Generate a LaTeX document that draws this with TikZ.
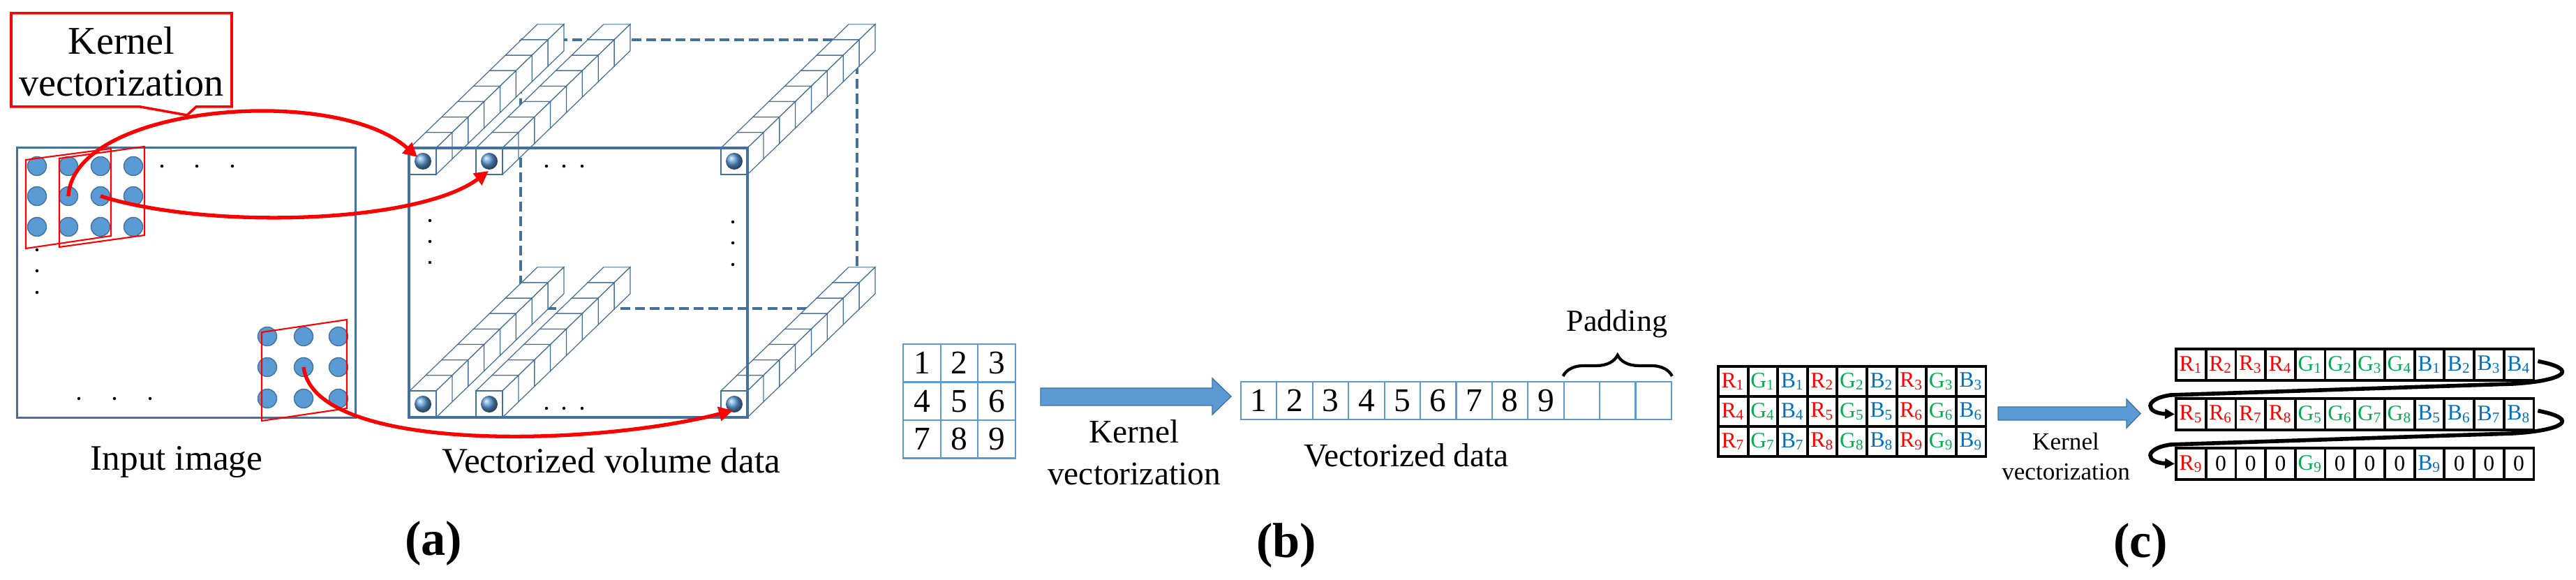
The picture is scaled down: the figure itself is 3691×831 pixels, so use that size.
\documentclass[tikz,border=0pt]{standalone}
\usepackage{fontspec}
\setmainfont{Liberation Serif}
\usetikzlibrary{arrows.meta,decorations.pathreplacing,calc}
\definecolor{cubeblue}{HTML}{41719C}
\definecolor{dotblue}{HTML}{5B9BD5}
\definecolor{cr}{HTML}{FF0000}
\definecolor{cg}{HTML}{00B050}
\definecolor{cb}{HTML}{0070C0}
\newcommand{\mycuberow}[2]{%
  \foreach \k in {7,6,...,0}{%
    \pgfmathsetmacro{\cx}{#1+\k*22.86}
    \pgfmathsetmacro{\cy}{#2-\k*22.14}
    \draw[cubeline,fill=white] (\cx,\cy) -- ++(22.86,-22.14) -- ++(38,0) -- ++(-22.86,22.14) -- cycle;
    \draw[cubeline,fill=white] (\cx+38,\cy) -- ++(22.86,-22.14) -- ++(0,38) -- ++(-22.86,22.14) -- cycle;
    \draw[cubeline,fill=white] (\cx,\cy) rectangle ++(38,38);
    \shade[ball color=dotblue] (\cx+19,\cy+19) circle (0.12cm);
  }}
\begin{document}
\begin{tikzpicture}[x=0.01cm,y=-0.01cm,
  cubeline/.style={draw=cubeblue,line width=0.35pt},
  pix/.style={circle,fill=dotblue,draw=cubeblue,line width=0.4pt,minimum width=0.25cm,minimum height=0.27cm,inner sep=0pt},
  redarrow/.style={draw=cr,line width=1.5pt,-{Triangle[length=0.2cm,width=0.2cm]}},
  frame/.style={draw=cr,line width=0.6pt},
  lbl/.style={font=\fontsize{14.6}{16}\selectfont,inner sep=0pt},
  lblb/.style={font=\fontsize{13.5}{15}\selectfont,inner sep=0pt,align=center},
  panel/.style={font=\fontsize{20}{22}\selectfont\bfseries,inner sep=0pt},
  bcell/.style={draw=dotblue,line width=0.6pt,minimum width=0.537cm,minimum height=0.545cm,inner sep=0pt,font=\fontsize{13.5}{15}\selectfont},
  vcell/.style={draw=dotblue,line width=0.6pt,minimum width=0.514cm,minimum height=0.54cm,inner sep=0pt,font=\fontsize{13.5}{15}\selectfont},
  ccell/.style={draw=black,line width=1.1pt,minimum width=0.426cm,minimum height=0.43cm,inner sep=0pt,font=\fontsize{9}{10}\selectfont},
  rcell/.style={draw=black,line width=1.1pt,minimum width=0.427cm,minimum height=0.45cm,inner sep=0pt,font=\fontsize{9}{10}\selectfont},
  blockarrow/.style={fill=dotblue,draw=cubeblue,line width=0.4pt},
  dot/.style={circle,fill=black,inner sep=0pt,minimum size=0.045cm},
  blackarrow/.style={draw=black,line width=1.6pt,-{Triangle[length=0.14cm,width=0.14cm]}}]
\useasboundingbox (0,0) rectangle (3691,831);

% ================= (a) =================
\node[draw=cubeblue,line width=0.9pt,minimum width=4.84cm,minimum height=3.86cm,inner sep=0pt] (img) at (267,405) {};
% pixel dots
\foreach \i/\x in {1/53,2/98,3/144,4/191}{
  \foreach \j/\y in {1/238,2/281,3/325}{
    \node[pix] (p\i\j) at (\x,\y) {};
  }}
\foreach \i/\x in {1/383,2/435,3/485}{
  \foreach \j/\y in {1/482,2/526,3/571}{
    \node[pix] (q\i\j) at (\x,\y) {};
  }}
\draw[frame] (37,229) -- (159,213) -- (159,338) -- (37,356) -- cycle;
\draw[frame] (85,227) -- (207,210) -- (207,337) -- (85,354) -- cycle;
\draw[frame] (375,476) -- (497,458) -- (497,585) -- (375,603) -- cycle;
\foreach \n/\x/\y in {d1/232/238,d2/282/238,d3/333/238,d4/53/358,d5/53/388,d6/53/419,d7/113/571,d8/164/571,d9/215/571}
  \node[dot] (\n) at (\x,\y) {};
% callout
\draw[draw=cr,line width=1pt,fill=white] (16,19) -- (332,19) -- (332,153) -- (281,153) -- (268,165) -- (201,153) -- (16,153) -- cycle;
\node[font=\fontsize{16}{18}\selectfont,align=center,inner sep=0pt] (callout) at (174,88) {Kernel\\[-1pt]vectorization};
\node[lbl] (inlbl) at (253,662) {Input image};

% volume cube
\draw[draw=cubeblue,line width=0.9pt,dash pattern=on 4pt off 2pt] (746,57) rectangle (1228,442);
\mycuberow{587}{212}
\mycuberow{682}{212}
\mycuberow{1033}{212}
\mycuberow{587}{560}
\mycuberow{682}{560}
\mycuberow{1033}{560}
\node[draw=cubeblue,line width=1.1pt,minimum width=4.85cm,minimum height=3.86cm,inner sep=0pt] (front) at (828.5,405) {};
\coordinate (s1) at (598,225);
\coordinate (s2) at (700,245);
\coordinate (s3) at (1050,588);
\foreach \n/\x/\y in {e1/783/238,e2/808/238,e3/834/238,e4/783/585,e5/808/585,e6/834/585,e7/616/316,e8/616/346,e9/616/376,e10/1050/318,e11/1050/348,e12/1050/379}
  \node[dot] (\n) at (\x,\y) {};
\node[lbl] (vollbl) at (876,660) {Vectorized volume data};
\node[panel] (pa) at (621,779) {(a)};
% red arrows
\draw[redarrow] (p22.center) .. controls (105,150) and (480,120) .. (s1);
\draw[redarrow] (p32.center) .. controls (300,330) and (600,320) .. (s2);
\draw[redarrow] (q22.center) .. controls (450,650) and (850,640) .. (s3);

% ================= (b) =================
\foreach \c in {0,1,2}{
  \foreach \r in {0,1,2}{
    \pgfmathtruncatemacro{\v}{\r*3+\c+1}
    \node[bcell] (g\v) at ({1294+26.85+\c*53.7},{493+27.25+\r*54.5}) {\v};
  }}
\draw[blockarrow] (1491,556) -- (1737,556) -- (1737,542) -- (1764,568) -- (1737,594) -- (1737,581) -- (1491,581) -- cycle;
\node[lblb] (kvb) at (1625,648) {Kernel\\[2pt]vectorization};
\foreach \i in {1,...,12}{
  \pgfmathtruncatemacro{\lab}{\i}
  \node[vcell] (v\i) at ({1778+25.7+(\i-1)*51.4},574) {\ifnum\i<10 \lab\fi};
}
\node[lblb] (vdl) at (2015,652) {Vectorized data};
\draw[line width=1.2pt,decorate,decoration={brace,amplitude=0.3cm}] (v10.north west) ++(0,-7) coordinate (bl) (v12.north east) ++(0,-7) coordinate (br) (bl) -- (br);
\node[font=\fontsize{12.5}{14}\selectfont,inner sep=0pt] (pad) at (2317,464) {Padding};
\node[panel] (pb) at (1843,782) {(b)};

% ================= (c) =================
\foreach \r in {0,1,2}{
  \foreach \c in {0,...,8}{
    \pgfmathtruncatemacro{\idx}{\r*3+floor(\c/3)+1}
    \pgfmathtruncatemacro{\ch}{mod(\c,3)}
    \node[ccell] (c\r\c) at ({2462+21.3+\c*42.6},{525+21.5+\r*43}) {%
      \ifcase\ch\textcolor{cr}{R\textsubscript{\idx}}\or\textcolor{cg}{G\textsubscript{\idx}}\or\textcolor{cb}{B\textsubscript{\idx}}\fi};
  }}
\draw[blockarrow] (2863,583) -- (3047,583) -- (3047,572) -- (3067,592.5) -- (3047,613) -- (3047,602) -- (2863,602) -- cycle;
\node[font=\fontsize{10}{11}\selectfont,align=center,inner sep=0pt] (kvc) at (2960,654) {Kernel\\[1pt]vectorization};
\foreach \r/\yy in {1/522.5,2/593.5,3/664.5}{
  \foreach \c in {0,...,11}{
    \pgfmathtruncatemacro{\g}{floor(\c/4)}
    \pgfmathtruncatemacro{\m}{mod(\c,4)}
    \pgfmathtruncatemacro{\idx}{(\r-1)*4+\m+1}
    \node[rcell] (r\r\c) at ({3118+21.35+\c*42.7},\yy) {%
      \ifnum\r=3
        \ifnum\m=0 \ifcase\g\textcolor{cr}{R\textsubscript{9}}\or\textcolor{cg}{G\textsubscript{9}}\or\textcolor{cb}{B\textsubscript{9}}\fi\else 0\fi
      \else
        \ifcase\g\textcolor{cr}{R\textsubscript{\idx}}\or\textcolor{cg}{G\textsubscript{\idx}}\or\textcolor{cb}{B\textsubscript{\idx}}\fi
      \fi};
  }}
\draw[blackarrow] (r111.east) ++(4,-5) .. controls (3700,530) and (3670,546) .. (3600,550) -- (3110,566) .. controls (3070,572) and (3075,592) .. (r20.west);
\draw[blackarrow] (r211.east) ++(4,-5) .. controls (3700,601) and (3670,617) .. (3600,621) -- (3110,637) .. controls (3070,643) and (3075,663) .. (r30.west);
\node[panel] (pc) at (3067,782) {(c)};
\end{tikzpicture}
\end{document}
